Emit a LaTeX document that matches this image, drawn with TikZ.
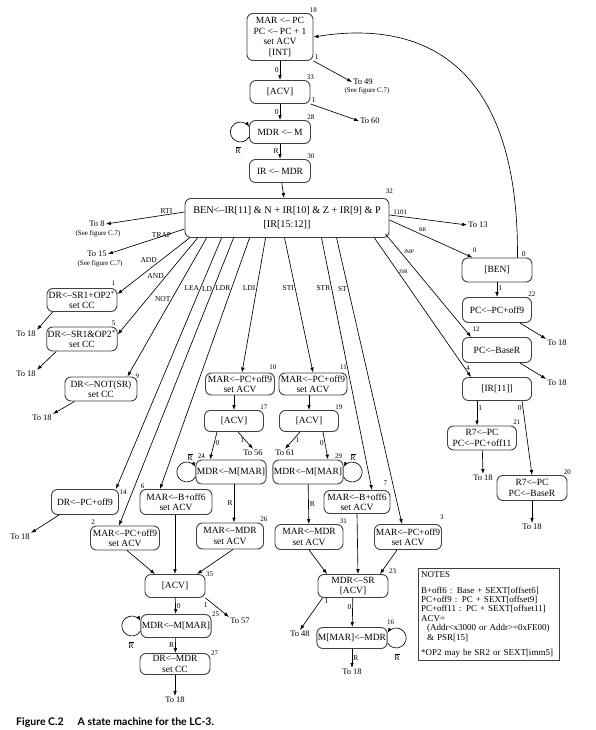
\documentclass[tikz,border=0pt]{standalone}
\usepackage{fontspec}
\setmainfont{Liberation Serif}
\newfontfamily\capfont{Lato}
\usetikzlibrary{arrows.meta}

% font sizes
\newcommand\stf{\fontsize{9.5}{10.5}\selectfont}
\newcommand\benf{\fontsize{10.2}{11}\selectfont}
\newcommand\numf{\fontsize{7}{8}\selectfont}
\newcommand\labf{\fontsize{7.5}{8.5}\selectfont}
\newcommand\tof{\fontsize{8.5}{9.5}\selectfont}
\newcommand\seef{\fontsize{7}{8}\selectfont}
\newcommand\opf{\fontsize{5.5}{6}\selectfont}
\newcommand\notef{\fontsize{9}{9.4}\selectfont}
\newcommand\capf{\capfont\bfseries\fontsize{10.5}{12}\selectfont}
\newcommand\rbar{$\overline{\mbox{R}}$}

\tikzset{
  state/.style={draw=black!75, line width=.9pt, rounded corners=6pt, align=center,
    font=\stf, inner sep=1pt, minimum width=69pt, minimum height=24pt},
  num/.style={font=\numf, inner sep=.5pt, anchor=south},
  lab/.style={font=\labf, inner sep=1pt},
  tonode/.style={font=\tof, inner sep=1pt},
  seenode/.style={font=\seef, inner sep=1pt},
  opl/.style={font=\labf, inner sep=1pt},
  ops/.style={font=\opf, inner sep=1pt},
  arr/.style={-{Latex[length=5pt,width=3.6pt]}, line width=.65pt},
  notes/.style={draw=black!75, line width=.7pt, align=left, font=\notef,
    text width=135pt, minimum height=91pt, inner sep=3pt}
}

\begin{document}
\begin{tikzpicture}[x=1pt, y=-1pt]
\useasboundingbox (0,0) rectangle (595,730);
% fetch
\node[state, minimum width=66pt, minimum height=47pt, label={[num]north east:18}] (s18) at (280,37) {MAR <-- PC\\PC <-- PC + 1\\set ACV\\{}[INT]};
\node[state, minimum width=60pt, minimum height=23pt, label={[num]north east:33}] (s33) at (280,92) {[ACV]};
\node[state, minimum width=61pt, minimum height=23pt, label={[num]north east:28}] (s28) at (280,132) {MDR <-- M};
\node[state, minimum width=61pt, minimum height=23pt, label={[num]north east:30}] (s30) at (280,171) {IR <-- MDR};
% decode
\node[state, font=\benf, minimum width=204pt, minimum height=39pt, label={[num, yshift=4pt]north east:32}] (s32) at (287,218) {BEN<--IR[11] \& N + IR[10] \& Z + IR[9] \& P\\[3pt]{}[IR[15:12]]};
% branch, jumps
\node[state, minimum width=70pt, label={[num, xshift=13pt, yshift=4pt]north west:0}] (s0) at (497,270) {[BEN]};
\node[state, minimum height=25pt, label={[num]north east:22}] (s22) at (497,310) {PC<--PC+off9};
\node[state, minimum height=25pt, label={[num, xshift=14pt, yshift=5pt]north west:12}] (s12) at (497,350) {PC<--BaseR};
\node[state, minimum height=23pt, label={[num, xshift=6pt, yshift=6pt]north west:4}] (s4) at (497,389) {[IR[11]]};
\node[state, label={[num]north east:21}] (s21) at (482,438) {R7<--PC\\PC<--PC+off11};
\node[state, minimum width=70pt, minimum height=25pt, label={[num]north east:20}] (s20) at (532,488) {R7<--PC\\PC<--BaseR};
% operates
\node[state, minimum width=70pt, minimum height=23pt, label={[num, xshift=-4pt, yshift=2pt]north east:1}] (s1) at (82,300) {DR<--SR1+OP2$^*$\\set CC};
\node[state, minimum width=70pt, label={[num, xshift=-4pt]north east:5}] (s5) at (82,339) {DR<--SR1\&OP2$^*$\\set CC};
\node[state, minimum width=72pt, label={[num, anchor=center]north east:9}] (s9) at (101,389) {DR<--NOT(SR)\\set CC};
\node[state, minimum width=67pt, minimum height=25pt, label={[num, anchor=north west]north east:14}] (s14) at (85,502) {DR<--PC+off9};
% loads
\node[state, minimum width=72pt, minimum height=25pt, label={[num, xshift=3pt]north west:6}] (s6) at (176,502) {MAR<--B+off6\\set ACV};
\node[state, label={[num, xshift=3pt]north west:2}] (s2) at (125,538) {MAR<--PC+off9\\set ACV};
\node[state, minimum height=22pt, label={[num, xshift=-2pt, yshift=2pt]north east:10}] (s10) at (240,384) {MAR<--PC+off9\\set ACV};
\node[state, minimum width=68pt, minimum height=22pt, label={[num, xshift=-4pt, yshift=2pt]north east:11}] (s11) at (313,384) {MAR<--PC+off9\\set ACV};
\node[state, minimum width=59pt, minimum height=21pt, label={[num]north east:17}] (s17) at (234,421) {[ACV]};
\node[state, minimum width=59pt, minimum height=21pt, label={[num]north east:19}] (s19) at (309,421) {[ACV]};
\node[state, minimum width=68pt, label={[num, xshift=6pt]north west:24}] (s24) at (231,472) {MDR<--M[MAR]};
\node[state, minimum width=70pt, label={[num, xshift=-5pt]north east:29}] (s29) at (308,472) {MDR<--M[MAR]};
\node[state, minimum width=67pt, minimum height=26pt, label={[num]north east:26}] (s26) at (230,536) {MAR<--MDR\\set ACV};
\node[state, minimum width=68pt, minimum height=25pt, label={[num]north east:31}] (s31) at (309,537) {MAR<--MDR\\set ACV};
\node[state, minimum width=66pt, minimum height=23pt, label={[num, xshift=-5pt, yshift=4pt]north east:7}] (s7) at (357,502) {MAR<--B+off6\\set ACV};
\node[state, minimum width=67pt, minimum height=25pt, label={[num, yshift=4pt]north east:3}] (s3) at (408,537) {MAR<--PC+off9\\set ACV};
\node[state, minimum width=60pt, minimum height=23pt, label={[num, anchor=west]north east:35}] (s35) at (175,586) {[ACV]};
\node[state, minimum width=70pt, minimum height=23pt, label={[num, anchor=south west]north east:23}] (s23) at (353,586) {MDR<--SR\\{}[ACV]};
\node[state, minimum width=68pt, minimum height=23pt, label={[num, anchor=west]north east:25}] (s25) at (176,626) {MDR<--M[MAR]};
\node[state, minimum width=70pt, minimum height=21pt, label={[num, anchor=west]north east:27}] (s27) at (175,664) {DR<--MDR\\set CC};
\node[state, minimum width=69pt, minimum height=21pt, label={[num, xshift=3pt, yshift=2pt]north east:16}] (s16) at (352,638) {M[MAR]<--MDR};
% exits
\node[tonode] (to49) at (363,82) {To 49};
\node[seenode] (see49) at (367,91) {(See figure C.7)};
\node[tonode] (to60) at (370,121) {To 60};
\node[tonode] (to8) at (97,224) {To 8};
\node[seenode] (see8) at (98,234) {(See figure C.7)};
\node[tonode] (to15) at (97,254) {To 15};
\node[seenode] (see15) at (100,264) {(See figure C.7)};
\node[tonode] (to13) at (478,225) {To 13};
\node[tonode] (to18e) at (557,343) {To 18};
\node[tonode] (to18f) at (557,383) {To 18};
\node[tonode] (to18g) at (483,478) {To 18};
\node[tonode] (to18h) at (532,527) {To 18};
\node[tonode] (to18a) at (26,334) {To 18};
\node[tonode] (to18b) at (26,374) {To 18};
\node[tonode] (to18c) at (42,418) {To 18};
\node[tonode] (to18d) at (20,537) {To 18};
\node[tonode] (to56) at (253,453) {To 56};
\node[tonode] (to61) at (285,453) {To 61};
\node[tonode] (to57) at (240,621) {To 57};
\node[tonode] (to48) at (300,634) {To 48};
\node[tonode] (to18i) at (175,700) {To 18};
\node[tonode] (to18j) at (352,672) {To 18};
% fetch arrows
\draw[arr] (s18) -- node[lab, left] {0} (s33);
\draw[arr] (s18.south east) -- node[lab, pos=0, anchor=south west] {1} (to49.west);
\draw[arr] (s33) -- node[lab, left] {0} (s28);
\draw[arr] (s33.south east) -- node[lab, pos=0, anchor=south west] {1} (to60.west);
\draw[arr] (s28) -- node[lab, left] {R} (s30);
\draw[arr] ([yshift=-5pt]s28.west) arc[start angle=-30, end angle=-330, radius=10pt];
\node[lab] (rb28) at (238,150) {\rbar};
\draw[arr] (s30) -- (s32);
% decode arrows
\draw[arr] ([yshift=6pt]s32.west) -- node[opl, pos=.23, above] {RTI} (to8.east);
\draw[arr] ([yshift=-11pt]s32.west) -- node[opl, pos=.3, above=-2pt] {TRAP} (to15.east);
\draw[arr] ([xshift=5pt]s32.south west) -- node[opl, pos=.45, above left=-1pt] {ADD} ([yshift=-6pt]s1.north east);
\draw[arr] ([xshift=13pt]s32.south west) -- node[opl, pos=.42, above left=-1pt] {AND} ([yshift=-8pt]s5.north east);
\draw[arr] ([xshift=22pt]s32.south west) -- node[opl, pos=.44, left] {NOT} ([xshift=-10pt]s9.north east);
\draw[arr] ([xshift=37pt]s32.south west) -- node[opl, pos=.2, left=0pt] {LEA} ([xshift=-3pt]s14.north east);
\draw[arr] ([xshift=49pt]s32.south west) -- node[opl, pos=.176, left=0pt] {LD} ([xshift=-6pt]s2.north);
\draw[arr] ([xshift=65pt]s32.south west) -- node[opl, pos=.2, left=0pt] {LDR} ([xshift=-16pt]s6.north);
\draw[arr] ([xshift=81pt]s32.south west) -- node[opl, pos=.375, left=0pt] {LDI} ([xshift=2pt]s10.north);
\draw[arr] ([xshift=100pt]s32.south west) -- node[opl, pos=.375, left=0pt] {STI} (s11.north);
\draw[arr] ([xshift=137pt]s32.south west) -- node[opl, pos=.2, left=0pt] {STR} ([xshift=15pt]s7.north);
\draw[arr] ([xshift=152pt]s32.south west) -- node[opl, pos=.177, left=0pt] {ST} ([xshift=-6pt]s3.north);
\draw[arr] ([xshift=-15pt]s32.south east) -- node[ops, pos=.24, right=0pt] {JSR} ([xshift=9pt]s4.north west);
\draw[arr] ([xshift=-4pt, yshift=4pt]s32.south east) -- node[ops, pos=.2, anchor=south west] {JMP} ([xshift=9pt]s12.north west);
\draw[arr] ([yshift=-2pt]s32.east) -- node[ops, pos=.4, above=2pt] {BR} ([xshift=11pt]s0.north west);
\draw[arr] ([yshift=3pt]s32.east) -- node[num, pos=.04, anchor=south west] {1101} (to13.west);
% branch and jumps
\draw[arr] (s0) -- node[lab, right, pos=.4] {1} (s22);
\draw[arr] ([xshift=-15pt]s0.north east) .. controls (519,60) and (420,20) .. node[lab, pos=0, anchor=south west, xshift=3pt] {0} (s18.east);
\draw[arr] ([xshift=-12pt]s22.south east) -- (to18e.north west);
\draw[arr] ([xshift=-12pt]s12.south east) -- (to18f.north west);
\draw[arr] ([xshift=-20pt]s4.south) -- node[lab, right, pos=.3] {1} ([xshift=-5pt]s21.north);
\draw[arr] ([xshift=25pt]s4.south) -- node[lab, left, pos=.1] {0} (s20.north);
\draw[arr] (s21) -- (to18g.north);
\draw[arr] (s20) -- (to18h.north);
% operate exits
\draw[arr] ([xshift=6pt]s1.south west) -- (to18a.north east);
\draw[arr] ([xshift=10pt]s5.south west) -- (to18b.north east);
\draw[arr] ([xshift=10pt]s9.south west) -- (to18c.north east);
\draw[arr] ([xshift=8pt]s14.south west) -- (to18d.north east);
% loads and stores
\draw[arr] (s10.south -| s17) -- (s17.north);
\draw[arr] (s11.south -| s19) -- (s19.north);
\draw[arr] ([xshift=-17pt]s17.south) -- node[lab, pos=.4, right] {0} ([xshift=-21pt]s24.north);
\draw[arr] ([xshift=4pt]s17.south) -- node[lab, pos=.5, left] {1} (to56.north);
\draw[arr] ([xshift=-9pt]s19.south) -- node[lab, pos=.5, right=2pt] {1} (to61.north);
\draw[arr] ([xshift=14pt]s19.south) -- node[lab, pos=.4, left] {0} ([xshift=20pt]s29.north);
\draw[arr] (s24.south -| s17) -- node[lab, left] {R} (s26.north -| s17);
\draw[arr] ([yshift=-5pt]s24.west) arc[start angle=-30, end angle=-330, radius=10pt];
\node[lab] (rb24) at (190,457) {\rbar};
\draw[arr] (s29) -- node[lab, right] {R} (s31);
\draw[arr] ([yshift=-5pt]s29.east) arc[start angle=210, end angle=510, radius=10pt];
\node[lab] (rb29) at (353,457) {\rbar};
\draw[arr] ([xshift=2pt]s2.south) -- ([xshift=-20pt]s35.north);
\draw[arr] (s6.south -| s35) -- (s35.north);
\draw[arr] ([xshift=3pt]s26.south) -- ([xshift=22pt]s35.north);
\draw[arr] (s31.south) -- ([xshift=-26pt]s23.north);
\draw[arr] (s7.south) -- ([xshift=5pt]s23.north);
\draw[arr] ([xshift=-11pt]s3.south) -- ([xshift=27pt]s23.north);
% memory access
\draw[arr] (s35) -- node[lab, right] {0} (s25);
\draw[arr] (s35.south east) -- node[lab, pos=.15, below left=0pt] {1} (to57.north west);
\draw[arr] ([yshift=-5pt]s25.west) arc[start angle=-30, end angle=-330, radius=10pt];
\node[lab] (rb25) at (131,645) {\rbar};
\draw[arr] (s25) -- node[lab, left] {R} (s27);
\draw[arr] (s27) -- (to18i.north);
\draw[arr] ([xshift=5pt]s23.south west) -- node[lab, pos=.1, right=3pt] {1} (to48.north);
\draw[arr] (s23) -- node[lab, pos=.3, left=0pt] {0} (s16);
\draw[arr] ([yshift=-5pt]s16.east) arc[start angle=210, end angle=510, radius=10pt];
\node[lab] (rb16) at (397,657) {\rbar};
\draw[arr] (s16) -- node[lab, right] {R} (to18j.north);
% notes
\node[notes] (notes) at (488.5,614.5) {NOTES\\[6pt]
B+off6 : Base + SEXT[offset6]\\
PC+off9 : PC + SEXT[offset9]\\
PC+off11 : PC + SEXT[offset11]\\
ACV=\\
\hspace*{6pt}(Addr<x3000 or Addr>=0xFE00)\\
\hspace*{6pt}\& PSR[15]\\[6pt]
*OP2 may be SR2 or SEXT[imm5]};
% caption
\node[font=\capf, anchor=west, inner sep=0pt] (cap) at (16,723) {Figure C.2\hspace{14pt}A state machine for the LC-3.};
\end{tikzpicture}
\end{document}
